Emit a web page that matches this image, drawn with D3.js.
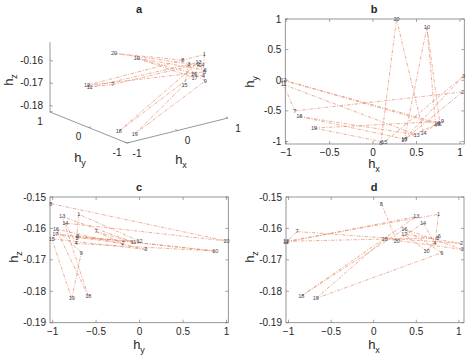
<!DOCTYPE html>
<html><head><meta charset="utf-8">
<script src="https://cdn.jsdelivr.net/npm/d3@7"></script>
<style>body{margin:0;background:#fff;}svg{display:block;}</style>
</head><body><svg id="c" width="474" height="362"></svg>
<script>
// ---- data ----
const labels = ["1","2","3","4","5","6","7","8","9","10","11","12","13","14","15","16","17","18","19","20"];
const hx = [0.76,1.03,1.04,0.72,0.75,0.77,-0.90,0.09,0.80,0.62,-1.03,-1.03,0.50,0.58,0.13,0.36,0.36,-0.85,-0.68,0.27];
const hy = [-0.70,-0.19,0.07,-0.73,-0.72,-0.71,-0.50,-1.02,-0.67,0.87,-0.07,0.00,-0.89,-0.855,-1.01,-0.96,-0.97,-0.59,-0.78,1.00];
const hz = [-0.1555,-0.1648,-0.1667,-0.1648,-0.1630,-0.1624,-0.1610,-0.1521,-0.1677,-0.1672,-0.1644,-0.1641,-0.1562,-0.1583,-0.1633,-0.1602,-0.1618,-0.1815,-0.1823,-0.1640];
const edgeFrom = [8,20,10,10,18,18,19,19,7,7,11,12,1,2,3,3,14,9,12,4];
const edgeTo   = [20,14,17,6,13,16,15,9,2,11,13,1,4,17,15,16,4,16,5,10];
const ticksH = [-1,-0.5,0,0.5,1];
const ticksZ = [-0.15,-0.16,-0.17,-0.18,-0.19];
const ticks3Z = [-0.16,-0.17,-0.18];
const ticks3XY = [-1,0,1];
const dims = {hx, hy, hz};

const svg = d3.select("#c");
const FONT = "'Liberation Sans', Arial, Helvetica, sans-serif";
const AX = "#7d7d7d", TXT = "#262626";
const LINE = "#e3835f", LAB = "#3a4759";

function axisLabel(g, x, y, sub, rot){
  const t = g.append("text").attr("font-family",FONT).attr("fill",TXT)
    .attr("text-anchor","middle").attr("font-size",13)
    .attr("transform",`translate(${x},${y})${rot?" rotate(-90)":""}`);
  t.append("tspan").text("h");
  t.append("tspan").attr("font-size",9).attr("dy",4).text(sub);
}
function title(x,y,s){
  svg.append("text").attr("x",x).attr("y",y).attr("text-anchor","middle")
    .attr("font-family",FONT).attr("font-weight","bold").attr("font-size",11).attr("fill",TXT).text(s);
}
function drawNet(g, P){
  edgeFrom.forEach((f,i)=>{
    const a=P(f-1), b=P(edgeTo[i]-1);
    g.append("line").attr("x1",a[0]).attr("y1",a[1]).attr("x2",b[0]).attr("y2",b[1])
      .attr("stroke",LINE).attr("stroke-width",0.7).attr("stroke-dasharray","3.5,1.5,1,1.5").attr("opacity",0.9);
  });
  labels.forEach((l,i)=>{
    const p=P(i);
    g.append("text").attr("x",p[0]).attr("y",p[1]).attr("dy","0.35em").attr("text-anchor","middle")
      .attr("font-family",FONT).attr("font-size",5.5).attr("fill",LAB).text(l);
  });
}

// ---- 2D panels ----
function panel2D(cfg){
  const x = d3.scaleLinear().domain(cfg.xd).range(cfg.xr);
  const y = d3.scaleLinear().domain(cfg.yd).range(cfg.yr);
  const g = svg.append("g");
  const [x0,x1]=cfg.xr, [y0,y1]=[cfg.yr[1],cfg.yr[0]];
  g.append("rect").attr("x",x0).attr("y",y0).attr("width",x1-x0).attr("height",y1-y0)
    .attr("fill","#fff").attr("stroke",AX).attr("stroke-width",0.8);
  cfg.xt.forEach(t=>{
    const px=x(t);
    g.append("line").attr("x1",px).attr("x2",px).attr("y1",y1).attr("y2",y1-3).attr("stroke",AX).attr("stroke-width",0.7);
    g.append("line").attr("x1",px).attr("x2",px).attr("y1",y0).attr("y2",y0+3).attr("stroke",AX).attr("stroke-width",0.7);
    g.append("text").attr("x",px).attr("y",y1+12).attr("text-anchor","middle").attr("font-family",FONT)
      .attr("font-size",10).attr("fill",TXT).text(d3.format("")(t).replace("-","-"));
  });
  cfg.yt.forEach(t=>{
    const py=y(t);
    g.append("line").attr("x1",x0).attr("x2",x0+3).attr("y1",py).attr("y2",py).attr("stroke",AX).attr("stroke-width",0.7);
    g.append("line").attr("x1",x1).attr("x2",x1-3).attr("y1",py).attr("y2",py).attr("stroke",AX).attr("stroke-width",0.7);
    g.append("text").attr("x",x0-4).attr("y",py).attr("dy","0.35em").attr("text-anchor","end").attr("font-family",FONT)
      .attr("font-size",10).attr("fill",TXT).text(t);
  });
  const X=dims[cfg.xk], Y=dims[cfg.yk];
  drawNet(g, i=>[x(X[i]), y(Y[i])]);
  axisLabel(g, cfg.xl[0], cfg.xl[1], cfg.xk.slice(1), false);
  axisLabel(g, cfg.yl[0], cfg.yl[1], cfg.yk.slice(1), true);
}

panel2D({xk:"hx",yk:"hy",xd:[-1.01,1.05],xr:[285.3,464.3],yd:[-1.04,1.0],yr:[144,19],
  xt:ticksH,yt:ticksH,xl:[374,168],yl:[254,82]});
panel2D({xk:"hy",yk:"hz",xd:[-1.03,1.02],xr:[50,228.3],yd:[-0.19,-0.15],yr:[322.7,197],
  xt:ticksH,yt:ticksZ,xl:[139,349],yl:[18,257]});
panel2D({xk:"hx",yk:"hz",xd:[-1.03,1.06],xr:[286,464],yd:[-0.19,-0.15],yr:[322.7,197],
  xt:ticksH,yt:ticksZ,xl:[374,349],yl:[254,257]});

// ---- 3D panel ----
const f = d3.scaleLinear().domain([-1,1]).range([0,1]);
const zs = d3.scaleLinear().domain([-0.183,-0.152]).range([0,69.75]);
function proj(a,b,c){ const xf=f(a), yf=f(b);
  return [127 + xf*101 - yf*77, 143 - xf*25 - yf*31 - zs(c)]; }
const g3 = svg.append("g");
const zb = zs.domain()[0], zt = zs.domain()[1];
const pA = proj(-1,1,zb), pT = proj(-1,1,zt), pC = proj(-1,-1,zb), pX = proj(1,-1,zb);
[[pA,pT],[pA,pC],[pC,pX]].forEach(([a,b])=>g3.append("line").attr("x1",a[0]).attr("y1",a[1]).attr("x2",b[0]).attr("y2",b[1]).attr("stroke",AX).attr("stroke-width",0.8));
ticks3Z.forEach(t=>{const p=proj(-1,1,t);
  g3.append("line").attr("x1",p[0]).attr("x2",p[0]+3).attr("y1",p[1]).attr("y2",p[1]+1).attr("stroke",AX).attr("stroke-width",0.7);
  g3.append("text").attr("x",p[0]-7).attr("y",p[1]).attr("dy","0.35em").attr("text-anchor","end").attr("font-family",FONT).attr("font-size",10).attr("fill",TXT).text(t);});
ticks3XY.forEach(t=>{
  const p=proj(-1,t,zb);
  g3.append("line").attr("x1",p[0]).attr("y1",p[1]).attr("x2",p[0]+2.5).attr("y2",p[1]-0.6).attr("stroke",AX).attr("stroke-width",0.7);
  g3.append("text").attr("x",p[0]-10).attr("y",p[1]+9).attr("dy","0.35em").attr("text-anchor","middle").attr("font-family",FONT).attr("font-size",10).attr("fill",TXT).text(t);
  const q=proj(t,-1,zb);
  g3.append("line").attr("x1",q[0]).attr("y1",q[1]).attr("x2",q[0]-2.3).attr("y2",q[1]-1).attr("stroke",AX).attr("stroke-width",0.7);
  g3.append("text").attr("x",q[0]+10).attr("y",q[1]+10).attr("dy","0.35em").attr("text-anchor","middle").attr("font-family",FONT).attr("font-size",10).attr("fill",TXT).text(t);
});
drawNet(g3, i=>proj(hx[i],hy[i],hz[i]));
axisLabel(g3, 13, 80, "z", true);
axisLabel(g3, 80, 162, "y", false);
axisLabel(g3, 181, 164, "x", false);

title(139,13,"a"); title(374,13,"b"); title(139,191,"c"); title(374,191,"d");
</script></body></html>
